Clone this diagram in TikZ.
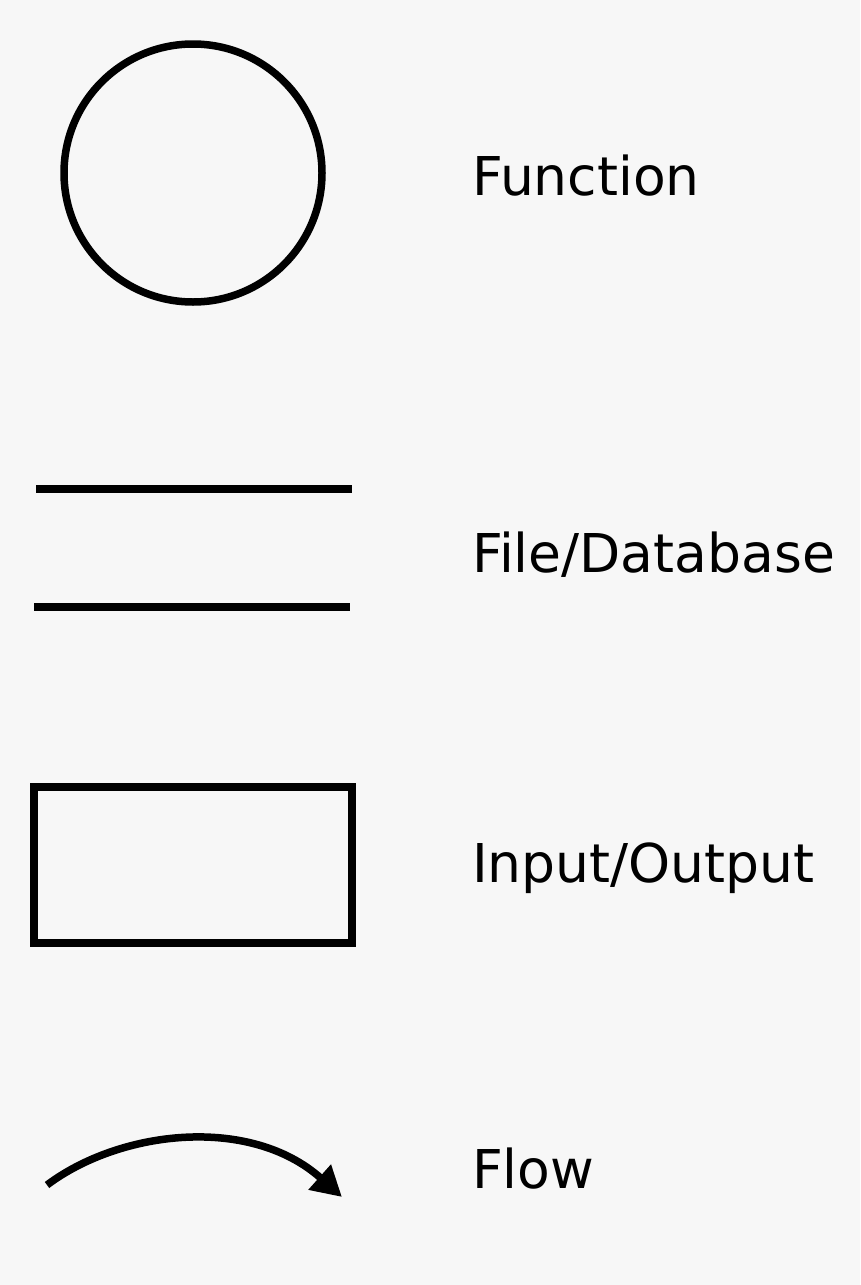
\documentclass[tikz,border=0pt]{standalone}
\usepackage{fontspec}
\setmainfont{DejaVu Sans}
\usetikzlibrary{arrows.meta}
\definecolor{bg}{HTML}{F7F7F7}
\begin{document}
\begin{tikzpicture}[x=1pt,y=-1pt,
  shapeline/.style={line width=7.5pt,draw=black},
  label/.style={anchor=base west,inner sep=0pt,font=\fontsize{53.5}{58}\selectfont}]
\fill[bg] (0,0) rectangle (860,1285);
\useasboundingbox (0,0) rectangle (860,1285);
% Function
\node[shapeline,circle,minimum size=258pt,inner sep=0pt] (fn) at (193,173) {};
\node[label] (fnl) at (472,195) {Function};
% File/Database
\coordinate (d1a) at (36,489); \coordinate (d1b) at (352,489);
\coordinate (d2a) at (34,607); \coordinate (d2b) at (350,607);
\draw[shapeline] (d1a) -- (d1b);
\draw[shapeline] (d2a) -- (d2b);
\node[label] (dbl) at (472,572) {File/Database};
% Input/Output
\node[shapeline,rectangle,minimum width=318pt,minimum height=156pt,inner sep=0pt] (io) at (193,865) {};
\node[label] (iol) at (472,882) {Input/Output};
% Flow
\coordinate (fa) at (47,1185);
\coordinate (fb) at (342,1197);
\draw[line width=7.5pt,-{Triangle[length=30pt,width=32pt]}] (fa) .. controls (120,1130) and (250,1115) .. (fb);
\node[label] (fll) at (472,1188) {Flow};
\end{tikzpicture}
\end{document}
